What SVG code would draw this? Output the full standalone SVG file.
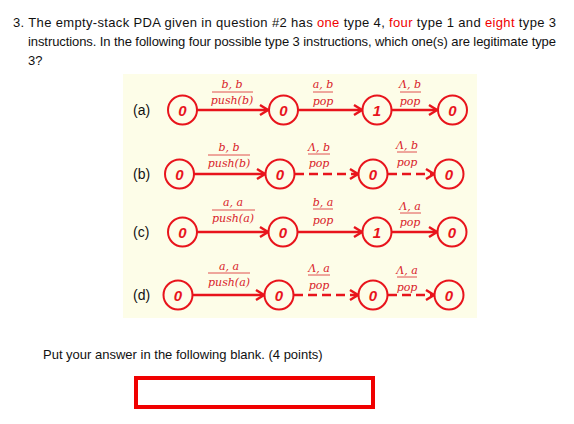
<svg xmlns="http://www.w3.org/2000/svg" width="574" height="424" viewBox="0 0 574 424">
<style>
.t{font-family:"Liberation Sans",Arial,sans-serif;font-size:13px;fill:#111}
.red{fill:#f00000}
.lbl{font-family:"Liberation Sans",Arial,sans-serif;font-size:14px;fill:#111}
.st circle{fill:#fdfde8;stroke:#e8141c;stroke-width:2}
.st text{font-family:"Liberation Sans",Arial,sans-serif;font-size:15px;font-weight:bold;font-style:italic;fill:#e8141c;text-anchor:middle}
.e{stroke:#e8141c;stroke-width:2.4;fill:none}
.d{stroke-dasharray:9 5}
.el{font-family:"DejaVu Serif","Liberation Serif",serif;font-style:italic;font-size:11px;fill:#d8232a;text-anchor:middle}
.fl{stroke:#d8232a;stroke-width:0.8}
</style>
<defs>
<marker id="ah" markerUnits="userSpaceOnUse" viewBox="-11 -7 13 14" markerWidth="13" markerHeight="14" refX="0" refY="0" orient="auto">
<path d="M-8,-5 L0,0 L-8,5" fill="none" stroke="#e8141c" stroke-width="2.4" stroke-dasharray="none"/>
</marker>
</defs>
<rect width="574" height="424" fill="#fff"/>
<text class="t" x="13" y="27" textLength="543" lengthAdjust="spacing">3. The empty-stack PDA given in question #2 has <tspan class="red">one</tspan> type 4, <tspan class="red">four</tspan> type 1 and <tspan class="red">eight</tspan> type 3</text>
<text class="t" x="28" y="46" textLength="528" lengthAdjust="spacing">instructions. In the following four possible type 3 instructions, which one(s) are legitimate type</text>
<text class="t" x="28" y="65">3?</text>
<rect x="123" y="74" width="354" height="244" fill="#fdfde8"/>
<text class="lbl" x="133" y="115">(a)</text>
<text class="lbl" x="133" y="179">(b)</text>
<text class="lbl" x="133" y="237">(c)</text>
<text class="lbl" x="133" y="300">(d)</text>
<g id="connectors">
<line class="e" x1="197" y1="110" x2="268" y2="110" marker-end="url(#ah)"/>
<line class="e" x1="298" y1="110" x2="362" y2="110" marker-end="url(#ah)"/>
<line class="e" x1="392" y1="110" x2="437" y2="110" marker-end="url(#ah)"/>
<line class="e" x1="194" y1="174" x2="265" y2="174" marker-end="url(#ah)"/>
<line class="e d" x1="295" y1="174" x2="358" y2="174" marker-end="url(#ah)"/>
<line class="e d" x1="388" y1="174" x2="434" y2="174" marker-end="url(#ah)"/>
<line class="e" x1="197" y1="232" x2="268" y2="232" marker-end="url(#ah)"/>
<line class="e" x1="298" y1="232" x2="362" y2="232" marker-end="url(#ah)"/>
<line class="e" x1="392" y1="232" x2="437" y2="232" marker-end="url(#ah)"/>
<line class="e" x1="193" y1="295" x2="264" y2="295" marker-end="url(#ah)"/>
<line class="e d" x1="294" y1="295" x2="358" y2="295" marker-end="url(#ah)"/>
<line class="e d" x1="388" y1="295" x2="434" y2="295" marker-end="url(#ah)"/>
<g id="edge-labels">
<text class="el" x="232" y="88">b, b</text><line class="fl" x1="212" y1="92" x2="253" y2="92"/><text class="el" x="232" y="104">push(b)</text>
<text class="el" x="323" y="88">a, b</text><line class="fl" x1="313" y1="92" x2="333" y2="92"/><text class="el" x="323" y="105">pop</text>
<text class="el" x="410" y="88">Λ, b</text><line class="fl" x1="400" y1="92" x2="421" y2="92"/><text class="el" x="410" y="105">pop</text>
<text class="el" x="229" y="151">b, b</text><line class="fl" x1="208" y1="155" x2="250" y2="155"/><text class="el" x="229" y="167">push(b)</text>
<text class="el" x="319" y="151">Λ, b</text><line class="fl" x1="308" y1="154" x2="330" y2="154"/><text class="el" x="319" y="167">pop</text>
<text class="el" x="407" y="149">Λ, b</text><line class="fl" x1="397" y1="152" x2="417" y2="152"/><text class="el" x="407" y="166">pop</text>
<text class="el" x="233" y="206">a, a</text><line class="fl" x1="212" y1="210" x2="255" y2="210"/><text class="el" x="233" y="222">push(a)</text>
<text class="el" x="323" y="206">b, a</text><line class="fl" x1="313" y1="209" x2="333" y2="209"/><text class="el" x="323" y="224">pop</text>
<text class="el" x="410" y="210">Λ, a</text><line class="fl" x1="400" y1="213" x2="421" y2="213"/><text class="el" x="410" y="226">pop</text>
<text class="el" x="229" y="270">a, a</text><line class="fl" x1="208" y1="273" x2="250" y2="273"/><text class="el" x="229" y="286">push(a)</text>
<text class="el" x="319" y="272">Λ, a</text><line class="fl" x1="308" y1="275" x2="330" y2="275"/><text class="el" x="319" y="289">pop</text>
<text class="el" x="407" y="274">Λ, a</text><line class="fl" x1="397" y1="277" x2="417" y2="277"/><text class="el" x="407" y="291">pop</text>
</g>
</g>
<g id="a0" class="st"><circle cx="182.5" cy="110" r="14.5"/><text x="182.5" y="115.5">0</text></g>
<g id="a1" class="st"><circle cx="283.5" cy="110" r="14.5"/><text x="283.5" y="115.5">0</text></g>
<g id="a2" class="st"><circle cx="377" cy="110" r="14.5"/><text x="377" y="115.5">1</text></g>
<g id="a3" class="st"><circle cx="452.5" cy="110" r="14.5"/><text x="452.5" y="115.5">0</text></g>
<g id="b0" class="st"><circle cx="179.5" cy="174" r="14.5"/><text x="179.5" y="179.5">0</text></g>
<g id="b1" class="st"><circle cx="280" cy="174" r="14.5"/><text x="280" y="179.5">0</text></g>
<g id="b2" class="st"><circle cx="373" cy="174" r="14.5"/><text x="373" y="179.5">0</text></g>
<g id="b3" class="st"><circle cx="449" cy="174" r="14.5"/><text x="449" y="179.5">0</text></g>
<g id="c0" class="st"><circle cx="182.5" cy="232" r="14.5"/><text x="182.5" y="237.5">0</text></g>
<g id="c1" class="st"><circle cx="283" cy="232" r="14.5"/><text x="283" y="237.5">0</text></g>
<g id="c2" class="st"><circle cx="377" cy="232" r="14.5"/><text x="377" y="237.5">1</text></g>
<g id="c3" class="st"><circle cx="452" cy="232" r="14.5"/><text x="452" y="237.5">0</text></g>
<g id="d0" class="st"><circle cx="178" cy="295" r="14.5"/><text x="178" y="300.5">0</text></g>
<g id="d1" class="st"><circle cx="279" cy="295" r="14.5"/><text x="279" y="300.5">0</text></g>
<g id="d2" class="st"><circle cx="373" cy="295" r="14.5"/><text x="373" y="300.5">0</text></g>
<g id="d3" class="st"><circle cx="449" cy="295" r="14.5"/><text x="449" y="300.5">0</text></g>
<text class="t" x="43" y="359">Put your answer in the following blank. (4 points)</text>
<rect x="136" y="378" width="237" height="29" fill="none" stroke="#f00000" stroke-width="4"/>
</svg>
